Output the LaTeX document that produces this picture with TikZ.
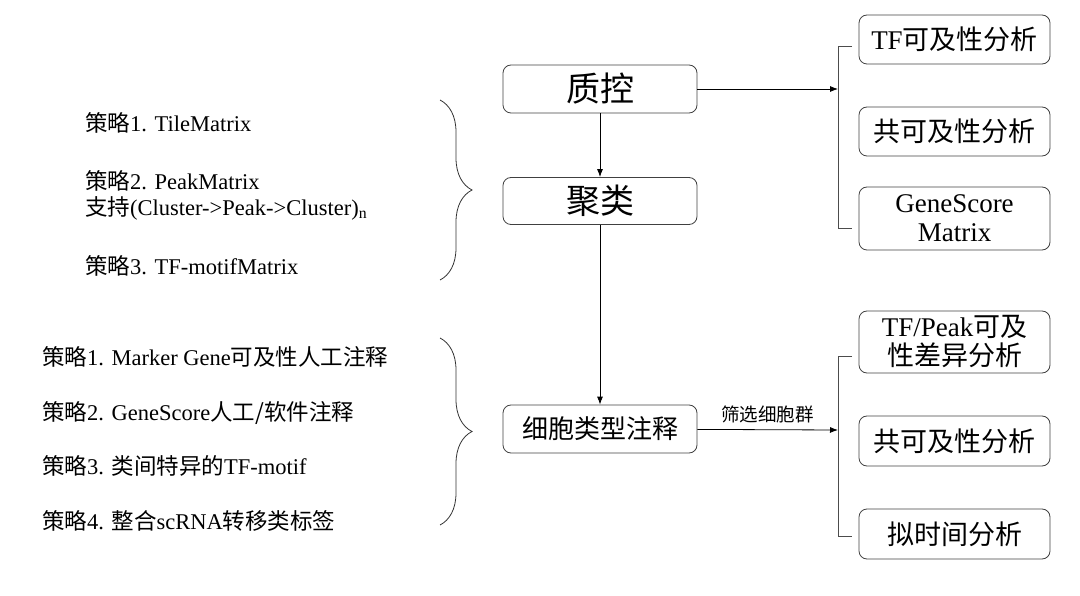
\documentclass[tikz,border=0pt]{standalone}
\usepackage{fontspec}
\setmainfont{Liberation Serif}
\newfontfamily\cjk{Noto Sans CJK SC}
\usetikzlibrary{decorations.pathreplacing,arrows.meta}
\newcommand{\zh}[1]{{\cjk #1}}
\begin{document}
\begin{tikzpicture}[x=1pt,y=-1pt,
  box/.style={draw=black!75,rounded corners=8pt,minimum width=194pt,line width=0.8pt},
  rbox/.style={draw=black!75,rounded corners=8pt,minimum width=191pt,line width=0.8pt,align=center,font=\fontsize{27}{29}\selectfont},
  lab/.style={anchor=west,font=\fontsize{22.5}{24}\selectfont,inner sep=0},
  arr/.style={-{Latex[length=8pt,width=6pt]},line width=0.8pt},
  brk/.style={draw=black!70,line width=0.8pt},
  brc/.style={decorate,decoration={brace,amplitude=32pt},line width=0.8pt,draw=black!80}]
\useasboundingbox (0,0) rectangle (1080,596);
\node[box,minimum height=48pt,font=\fontsize{34}{36}\selectfont,inner sep=0] (qc) at (600,89) {\zh{质控}};
\node[box,minimum height=47pt,font=\fontsize{34}{36}\selectfont,inner sep=0] (cl) at (600,201) {\zh{聚类}};
\node[box,minimum height=48pt,font=\fontsize{26}{28}\selectfont,inner sep=0] (an) at (600,429) {\zh{细胞类型注释}};
\node[rbox,minimum height=49pt,inner sep=0] (r1) at (954.5,39.5) {TF\zh{可及性分析}};
\node[rbox,minimum height=49pt,inner sep=0] (r2) at (954.5,131.5) {\zh{共可及性分析}};
\node[rbox,minimum height=63pt,inner sep=0] (r3) at (954.5,218.5) {GeneScore\\Matrix};
\node[rbox,minimum height=62pt,inner sep=0] (r4) at (954.5,342) {TF/Peak\zh{可及}\\\zh{性差异分析}};
\node[rbox,minimum height=50pt,inner sep=0] (r5) at (954.5,441) {\zh{共可及性分析}};
\node[rbox,minimum height=50pt,inner sep=0] (r6) at (954.5,534) {\zh{拟时间分析}};
\coordinate (b1) at (838,89);
\coordinate (b2) at (838,430);
\draw[brk] (852,46) -- (838,46) -- (838,228) -- (852,228);
\draw[brk] (852,356) -- (838,356) -- (838,536) -- (852,536);
\draw[arr] (qc) -- (b1);
\draw[arr] (an) -- node[above=3pt,font=\fontsize{18.5}{20}\selectfont]{\zh{筛选细胞群}} (b2);
\draw[arr] (qc) -- (cl);
\draw[arr] (cl) -- (an);
\draw[brc] (440,100) -- (440,280);
\draw[brc] (440,338) -- (440,525);
\node[lab] (t1) at (85,123) {\zh{策略}1. TileMatrix};
\node[lab] (t2) at (85,181) {\zh{策略}2. PeakMatrix};
\node[lab] (t3) at (85,208) {\zh{支持}(Cluster-{\kern0pt}>Peak-{\kern0pt}>Cluster)$_{\mathrm{n}}$};
\node[lab] (t4) at (85,266) {\zh{策略}3. TF-motifMatrix};
\node[lab] (s1) at (42,357) {\zh{策略}1. Marker Gene\zh{可及性人工注释}};
\node[lab] (s2) at (42,413) {\zh{策略}2. GeneScore\zh{人工/软件注释}};
\node[lab] (s3) at (42,466) {\zh{策略}3. \zh{类间特异的}TF-motif};
\node[lab] (s4) at (42,521) {\zh{策略}4. \zh{整合}scRNA\zh{转移类标签}};
\end{tikzpicture}
\end{document}
